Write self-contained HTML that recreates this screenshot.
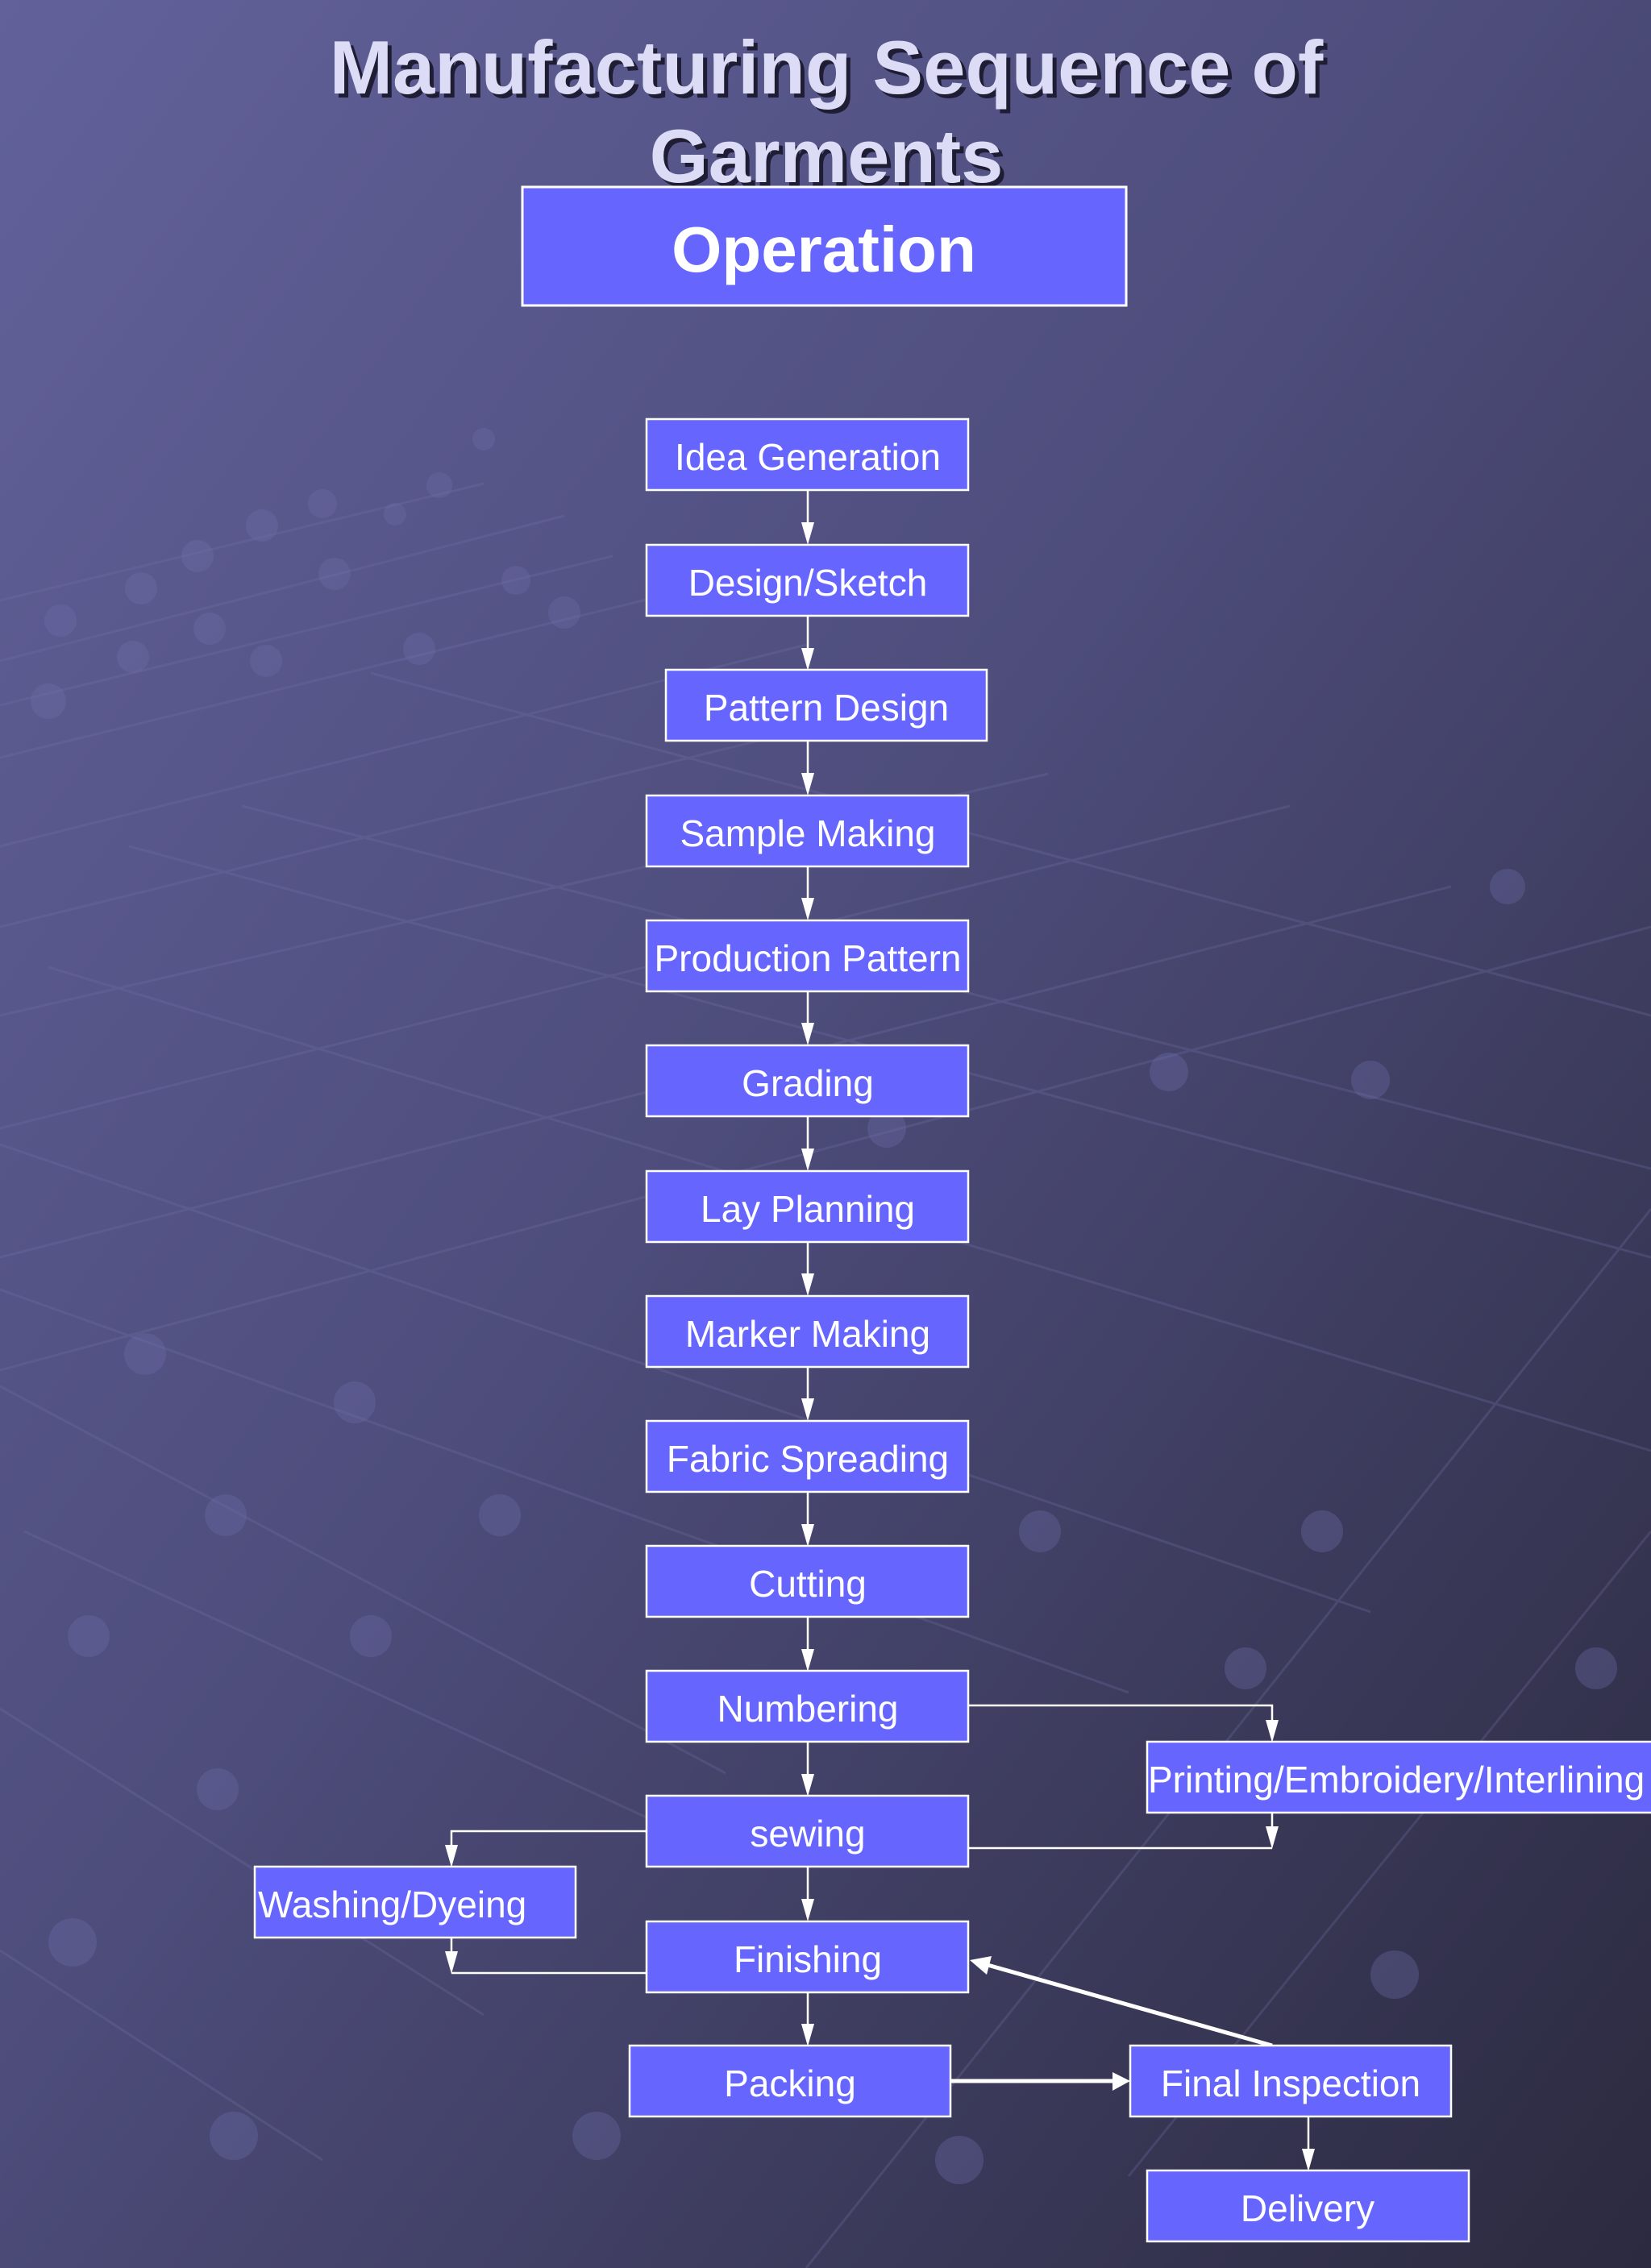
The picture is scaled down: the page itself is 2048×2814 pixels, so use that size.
<!DOCTYPE html>
<html><head><meta charset="utf-8"><style>
html,body{margin:0;padding:0;}
body{width:2048px;height:2814px;overflow:hidden;}
svg{display:block;}
</style></head><body>
<svg width="2048" height="2814" viewBox="0 0 2048 2814" xmlns="http://www.w3.org/2000/svg" font-family="'Liberation Sans', Arial, sans-serif">
<defs>
<linearGradient id="bg" x1="0" y1="0" x2="1" y2="1">
<stop offset="0" stop-color="#62619a"/>
<stop offset="0.45" stop-color="#4e4d7c"/>
<stop offset="1" stop-color="#2b2a3f"/>
</linearGradient>
</defs>
<rect width="2048" height="2814" fill="url(#bg)"/>
<g stroke="#7372a8" stroke-width="3" opacity="0.28" fill="none">
<path d="M0 745 L600 600"/><path d="M0 820 L700 640"/><path d="M0 875 L760 690"/><path d="M0 940 L900 720"/>
<path d="M0 1050 L1000 800"/><path d="M0 1150 L1100 880"/><path d="M0 1260 L1300 960"/><path d="M0 1400 L1600 1000"/>
<path d="M0 1560 L1800 1100"/><path d="M0 1700 L2048 1150"/>
<path d="M460 835 L2048 1260"/><path d="M300 1000 L2048 1450"/><path d="M160 1050 L2048 1560"/>
<path d="M60 1200 L2048 1800"/><path d="M0 1420 L1700 2000"/><path d="M0 1600 L1400 2100"/>
<path d="M0 1720 L900 2200"/><path d="M30 1900 L900 2300"/><path d="M0 2120 L600 2500"/><path d="M0 2420 L400 2680"/>
<path d="M1400 2700 L2048 1900"/><path d="M1000 2814 L2048 1500"/>
</g>
<g fill="#6e6da8" opacity="0.35">
<circle cx="600" cy="545" r="14"/><circle cx="545" cy="602" r="16"/><circle cx="490" cy="638" r="14"/><circle cx="400" cy="625" r="18"/>
<circle cx="325" cy="652" r="20"/><circle cx="245" cy="690" r="20"/><circle cx="175" cy="730" r="20"/><circle cx="75" cy="770" r="20"/>
<circle cx="415" cy="712" r="20"/><circle cx="260" cy="780" r="20"/><circle cx="165" cy="815" r="20"/><circle cx="60" cy="870" r="22"/>
<circle cx="330" cy="820" r="20"/><circle cx="520" cy="805" r="20"/><circle cx="640" cy="720" r="18"/><circle cx="700" cy="760" r="20"/>
<circle cx="1100" cy="1400" r="24"/><circle cx="1450" cy="1330" r="24"/><circle cx="1700" cy="1340" r="24"/><circle cx="1870" cy="1100" r="22"/>
<circle cx="180" cy="1680" r="26"/><circle cx="440" cy="1740" r="26"/><circle cx="620" cy="1880" r="26"/><circle cx="280" cy="1880" r="26"/>
<circle cx="110" cy="2030" r="26"/><circle cx="460" cy="2030" r="26"/><circle cx="270" cy="2220" r="26"/><circle cx="90" cy="2410" r="30"/>
<circle cx="290" cy="2650" r="30"/><circle cx="740" cy="2650" r="30"/><circle cx="1190" cy="2680" r="30"/><circle cx="1730" cy="2450" r="30"/>
<circle cx="1980" cy="2070" r="26"/><circle cx="1545" cy="2070" r="26"/><circle cx="1290" cy="1900" r="26"/><circle cx="1640" cy="1900" r="26"/>
</g>
<g font-weight="bold" font-size="94" text-anchor="middle">
<text x="1030" y="121" fill="#1e1d33">Manufacturing Sequence of</text>
<text x="1030" y="231" fill="#1e1d33">Garments</text>
<text x="1025" y="116" fill="#dcdcf6">Manufacturing Sequence of</text>
<text x="1025" y="226" fill="#dcdcf6">Garments</text>
</g>
<rect x="648" y="232" width="749" height="147" fill="#6666ff" stroke="#fff" stroke-width="3"/>
<text x="1022" y="337" fill="#fff" font-size="80" font-weight="bold" text-anchor="middle">Operation</text>
<g stroke="#fff" stroke-width="2.5" fill="none">
<path d="M1002 608 V662"/><path d="M1002 765 V818"/><path d="M1002 919 V973"/><path d="M1002 1075 V1128"/>
<path d="M1002 1230 V1283"/><path d="M1002 1384 V1439"/><path d="M1002 1540 V1594"/><path d="M1002 1695 V1749"/>
<path d="M1002 1851 V1905"/><path d="M1002 2005 V2060"/><path d="M1002 2160 V2215"/><path d="M1002 2316 V2370"/>
<path d="M1002 2472 V2525"/>
<path d="M1201 2116 H1578 V2148"/><path d="M1578 2250 V2280"/><path d="M1201 2293 H1578"/>
<path d="M802 2272 H560 V2303"/><path d="M560 2405 V2435"/><path d="M560 2448 H802"/>
<path d="M1623 2626 V2680"/>
</g>
<g stroke="#fff" stroke-width="5" fill="none">
<path d="M1179 2582 H1386"/><path d="M1578 2538 L1218 2436"/>
</g>
<g fill="#fff">
<path d="M994 648 L1010 648 L1002 676 Z"/><path d="M994 804 L1010 804 L1002 832 Z"/><path d="M994 959 L1010 959 L1002 987 Z"/>
<path d="M994 1114 L1010 1114 L1002 1142 Z"/><path d="M994 1269 L1010 1269 L1002 1297 Z"/><path d="M994 1425 L1010 1425 L1002 1453 Z"/>
<path d="M994 1580 L1010 1580 L1002 1608 Z"/><path d="M994 1735 L1010 1735 L1002 1763 Z"/><path d="M994 1891 L1010 1891 L1002 1919 Z"/>
<path d="M994 2046 L1010 2046 L1002 2074 Z"/><path d="M994 2201 L1010 2201 L1002 2229 Z"/><path d="M994 2356 L1010 2356 L1002 2384 Z"/>
<path d="M994 2511 L1010 2511 L1002 2539 Z"/>
<path d="M1570 2134 L1586 2134 L1578 2162 Z"/><path d="M1570 2266 L1586 2266 L1578 2294 Z"/>
<path d="M552 2289 L568 2289 L560 2317 Z"/><path d="M552 2421 L568 2421 L560 2449 Z"/>
<path d="M1615 2666 L1631 2666 L1623 2694 Z"/>
<path d="M1380 2571 L1402 2582 L1380 2594 Z"/>
<path d="M1203 2432 L1230 2427 L1224 2450 Z"/>
</g>
<g fill="#6666ff" stroke="#fff" stroke-width="2.5">
<rect x="802" y="520" width="399" height="88"/><rect x="802" y="676" width="399" height="88"/>
<rect x="826" y="831" width="398" height="88"/><rect x="802" y="987" width="399" height="88"/>
<rect x="802" y="1142" width="399" height="88"/><rect x="802" y="1297" width="399" height="88"/>
<rect x="802" y="1453" width="399" height="88"/><rect x="802" y="1608" width="399" height="88"/>
<rect x="802" y="1763" width="399" height="88"/><rect x="802" y="1918" width="399" height="88"/>
<rect x="802" y="2073" width="399" height="88"/><rect x="802" y="2228" width="399" height="88"/>
<rect x="802" y="2384" width="399" height="88"/><rect x="781" y="2538" width="398" height="88"/>
<rect x="1402" y="2538" width="398" height="88"/><rect x="1423" y="2693" width="399" height="88"/>
<rect x="1423" y="2161" width="640" height="88"/><rect x="316" y="2316" width="398" height="88"/>
</g>
<g fill="#fff" font-size="46" text-anchor="middle">
<text x="1002" y="583">Idea Generation</text><text x="1002" y="739">Design/Sketch</text>
<text x="1025" y="894">Pattern Design</text><text x="1002" y="1050">Sample Making</text>
<text x="1002" y="1205">Production Pattern</text><text x="1002" y="1360">Grading</text>
<text x="1002" y="1516">Lay Planning</text><text x="1002" y="1671">Marker Making</text>
<text x="1002" y="1826">Fabric Spreading</text><text x="1002" y="1981">Cutting</text>
<text x="1002" y="2136">Numbering</text><text x="1002" y="2291">sewing</text>
<text x="1002" y="2447">Finishing</text><text x="980" y="2601">Packing</text>
<text x="1601" y="2601">Final Inspection</text><text x="1622" y="2756">Delivery</text>
<text x="1424" y="2224" text-anchor="start">Printing/Embroidery/Interlining</text>
<text x="320" y="2379" text-anchor="start">Washing/Dyeing</text>
</g>
</svg>
</body></html>
